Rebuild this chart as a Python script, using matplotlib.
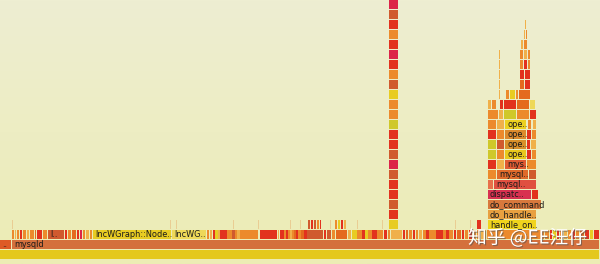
import matplotlib
matplotlib.use('Agg')
import matplotlib.pyplot as plt
import matplotlib.patheffects as pe
import numpy as np

# flame graph, x in samples (600 total), depth 0 = bottom
pal = {'o': '#ec8a2c', 'r': '#e2321e', 'm': '#dc2448', 'b': '#d05a2e',
       'y': '#e8cc22', 'l': '#f0b04a', 'g': '#cfc82a', 'd': '#e46a1e',
       'k': '#eed858', 'w': '#f2d890'}

# labelled frames
depths = [0, 1, 1, 2, 2, 2, 2, 3, 4, 5, 6, 7, 8, 9, 10, 11, 12, 13]
starts = [0, 0, 12, 48, 93, 172, 487, 488, 488, 488, 488, 494, 497, 505, 505, 505, 505, 505]
widths = [600, 12, 588, 17, 79, 35, 58, 49, 49, 54, 44, 43, 32, 22, 22, 22, 22, 22]
names = ['all', '..', 'mysqld', 'I..', 'IncWGraph::Node..', 'IncWG..', 'st..',
         'handle_on..', 'do_handle..', 'do_command', 'dispatc..', 'mysql..', 'mysql..',
         'mys..', 'ope..', 'ope..', 'ope..', 'ope..']
show = [0, 1, 1, 1, 1, 1, 0, 1, 1, 1, 1, 1, 1, 1, 1, 1, 1, 1]
cols = ['#e4c81c', '#de5a26', '#d4703c', 'b', 'y', 'k', 'o', '#f0d41c', '#e8a040',
        '#d8783c', '#d83050', '#e05040', '#e06a2a', '#e05a32', '#e8c81c', '#d8902a',
        '#dc8a2c', '#ecd020']

# depth 2, small unlabelled frames filling the gaps between labelled ones
gaps = [(12, 48), (65, 93), (207, 487), (545, 600)]
gap_w = [
    [3, 2, 3, 3, 4, 3, 5, 2, 6, 5],
    [3, 4, 5, 3, 3, 3, 4, 3],
    [3, 3, 2, 3, 2, 7, 5, 3, 2, 3, 18, 1, 18, 2, 4, 2, 2, 2, 2, 2, 2, 2, 3, 3, 3,
     16, 3, 5, 4, 12, 4, 5, 5, 3, 3, 4, 5, 3, 3, 4, 3, 12,
     3, 3, 4, 3, 3, 4, 3, 3, 4, 3, 3, 4, 3, 3, 4, 3, 5, 3, 4, 4, 4, 4, 6],
    [5, 3, 4, 3, 4, 4, 4, 4, 4, 5, 5, 4, 6],
]
gap_c = ['olorolodro', 'rodrmolo',
         'olrylrobolodrlrorolodrodrbrbodlyoryoroorolrdoroloroorrorordroro',
         'oryrolorodryr']

# right hand stack, unlabelled pieces (depth, start, width)
side_d = [6, 7, 8, 8, 9, 9, 9, 10, 10, 10, 10, 11, 11, 11, 11, 12, 12, 12, 12,
          13, 13, 13, 13, 14, 14, 14, 14, 14, 15, 15, 15, 15, 15, 15,
          16, 16, 16, 16, 16, 17, 17, 17, 18, 18, 18, 19, 19, 19, 19, 20, 20, 20, 20,
          21, 21, 22, 22, 23]
side_s = [532, 488, 488, 529, 488, 497, 527, 488, 497, 527, 532, 488, 497, 527, 531,
          488, 497, 527, 532, 488, 497, 528, 533, 488, 499, 504, 517, 530,
          488, 492, 500, 504, 517, 530,
          499, 506, 510, 516, 519, 499, 520, 525, 499, 520, 525, 499, 520, 524, 528,
          499, 520, 524, 528, 521, 524, 524, 526, 525]
side_w = [7, 6, 9, 8, 9, 8, 10, 9, 8, 5, 5, 9, 8, 4, 6, 9, 8, 5, 5, 9, 8, 4, 4,
          11, 5, 13, 13, 7, 4, 5, 4, 13, 13, 6,
          1, 4, 6, 3, 12, 1, 5, 6, 1, 5, 6, 1, 4, 4, 3, 1, 4, 4, 3, 3, 4, 2, 2, 1.5]
side_c = ['r', '#e8704a', 'o', 'b', 'r', 'l', 'o', 'g', 'o', 'r', 'o', 'g', 'b', 'r',
          'l', 'r', 'o', 'r', 'o', 'o', 'l', 'o', 'l', 'o', 'l', 'g', 'o', 'r',
          'l', 'o', 'r', 'r', 'd', 'k', 'l', 'o', 'y', 'o', 'd', 'l', 'd', 'r',
          'l', 'r', 'r', 'l', 'o', 'r', 'o', 'l', 'o', 'l', 'o', 'l', 'o', 'l', 'o', 'l']

# tall thread column (depth 3 upwards)
tower_c = 'yrbrrbmbrrgooybormrorbmb'
# small blocks at depth 3
d3_s = [308, 311, 314, 317, 320, 335, 338, 341, 344, 477]
d3_w = [3, 3, 3, 3, 2, 3, 3, 3, 3, 5]
d3_c = 'brbor' + 'oyrlr'
spikes = [12, 170, 176, 233, 258, 290, 300, 330, 357, 382, 455, 470]

fig = plt.figure(figsize=(6, 2.64), dpi=100)
ax = fig.add_axes([0, 0, 1, 1])
ax.set_xlim(0, 600)
ax.set_ylim(264, 0)
ax.axis('off')

grad = np.linspace(0, 1, 256)[:, None]
top = np.array([238, 238, 210]) / 255
bot = np.array([236, 236, 180]) / 255
img = top[None, None, :] * (1 - grad[..., None]) + bot[None, None, :] * grad[..., None]
ax.imshow(img, extent=[0, 600, 264, 0], aspect='auto', zorder=0)

H = 9.0


def ycen(d):
    return 254 - 10 * d


def col(c):
    return pal.get(c, c)


def frame(d, s, w, c, lab=None):
    ax.barh(ycen(d), max(w - 0.6, 0.5), left=s, height=H, color=col(c), lw=0, zorder=2)
    if lab:
        ax.text(s + 2, ycen(d) + 0.3, lab, fontsize=5.9, va='center', ha='left',
                family='DejaVu Sans', color='#1a1a1a', zorder=3, clip_on=True)


for i in range(len(depths)):
    frame(depths[i], starts[i], widths[i], cols[i], names[i] if show[i] else None)

for (a, b), ws, cs in zip(gaps, gap_w, gap_c):
    ws = np.array(ws, float) * (b - a) / sum(ws)
    x = a
    for i, w in enumerate(ws):
        frame(2, x, w, cs[i % len(cs)])
        x += w

for d, s, w, c in zip(side_d, side_s, side_w, side_c):
    frame(d, s, w, c)

for i, c in enumerate(tower_c):
    frame(3 + i, 389, 9.6, c)

for s, w, c in zip(d3_s, d3_w, d3_c):
    frame(3, s, w, c)
for s in spikes:
    ax.barh(ycen(3), 0.6, left=s, height=H, color='#e8b070', alpha=0.5, lw=0, zorder=2)

ax.text(468, 238, '知乎 @EE汪仔', fontsize=13.5, color='white', va='center', ha='left',
        family=['Noto Sans CJK SC', 'DejaVu Sans'], zorder=5,
        path_effects=[pe.withSimplePatchShadow(offset=(0.8, -0.8), shadow_rgbFace='#555555', alpha=0.6)])

fig.savefig('out.png', dpi=100)
